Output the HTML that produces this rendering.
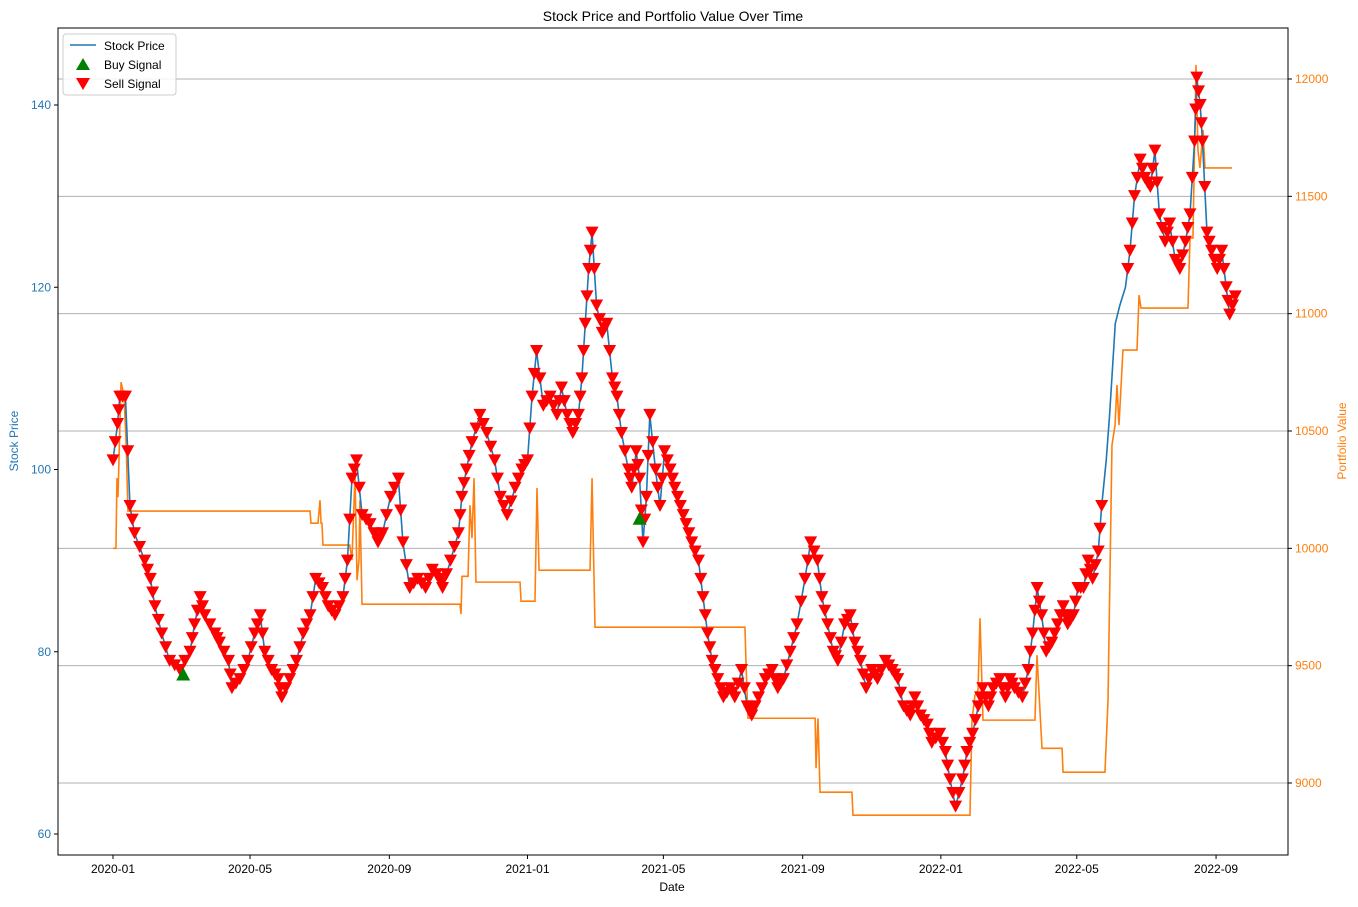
<!DOCTYPE html>
<html><head><meta charset="utf-8"><style>
body{margin:0;background:#fff;}
svg text{font-family:"Liberation Sans","Noto Sans CJK SC",sans-serif;}
</style></head><body>
<svg id="chart" width="1358" height="902" viewBox="0 0 1358 902" xmlns="http://www.w3.org/2000/svg">
<rect width="1358" height="902" fill="#fff"/>
<text x="673" y="21" text-anchor="middle" font-size="14">Stock Price and Portfolio Value Over Time</text>
<g id="grid"></g>
<g id="port"></g>
<g id="price"></g>
<g id="marks"></g>
<rect x="58" y="28" width="1230" height="827" fill="none" stroke="#000" stroke-width="1"/>
<g id="axes"></g>
<text x="672" y="891" text-anchor="middle" font-size="12">Date</text>
<text transform="translate(18,441) rotate(-90)" text-anchor="middle" font-size="12" fill="#1f77b4">Stock Price</text>
<text transform="translate(1346,441) rotate(-90)" text-anchor="middle" font-size="12" fill="#ff7f0e">Portfolio Value</text>
<g>
<rect x="63" y="34" width="113" height="61" fill="#fff" fill-opacity="0.85" stroke="#ccc" rx="3"/>
<line x1="70" y1="45" x2="96" y2="45" stroke="#1f77b4" stroke-width="1.5"/>
<text x="104" y="50" font-size="12">Stock Price</text>
<polygon points="83,58 76,70 90,70" fill="#008000"/>
<text x="104" y="69" font-size="12">Buy Signal</text>
<polygon points="76,78 90,78 83,90" fill="#ff0000"/>
<text x="104" y="88" font-size="12">Sell Signal</text>
</g>
</svg>
<script>
const days=[0,4,6,11,15,19,28,33,37,43,50,59,68,72,77,81,90,94,102,105,112,119,125,130,134,140,146,149,156,162,168,174,179,185,190,196,203,207,211,215,220,227,234,238,245,252,256,262,269,276,282,289,291,298,305,308,312,317,324,330,337,342,348,355,361,366,370,374,380,386,392,396,401,406,411,414,417,420,423,427,432,436,441,445,449,455,458,462,465,468,471,474,479,483,487,492,496,501,506,511,517,521,525,529,534,539,545,549,555,560,564,570,576,582,587,592,598,604,611,616,622,626,631,636,640,646,651,655,660,665,670,675,682,688,693,698,704,708,713,719,723,730,735,739,744,750,754,759,764,768,773,777,783,788,792,796,803,808,812,816,820,824,829,834,839,843,848,852,857,861,865,870,873,877,880,885,889,894,898,902,907,911,916,920,924,929,933,938,942,947,951,955,957,960,962,966,970,975,979,983,986,991];
const prices=[101,105,108,108,96,93,90,88,85,82,79,78,80,83,86,84,82,81,79,76,77,79,82,84,80,78,77,75,77,79,82,84,88,87,85,84,86,90,99,101,95,94,92,93,97,99,92,87,88,87,89,88,87,90,93,97,100,103,106,104,101,97,95,98,100,101,108,113,107,108,106,109,106,104,106,110,116,122,126,118,115,116,110,108,104,100,98,102,99,92,97,106,100,96,102,100,98,96,94,92,90,86,82,79,77,75,76,75,78,74,73,75,77,78,76,77,80,83,88,92,90,86,83,80,79,83,84,81,79,76,78,77,79,78,77,74,73,75,73,72,70,71,69,66,63,66,69,71,74,76,74,76,77,75,77,76,75,78,82,87,84,80,81,83,85,83,84,87,87,90,88,91,96,101,106,116,118,120,124,130,134,132,131,135,128,125,127,123,122,125,128,136,143,140,136,126,124,122,124,120,117,119];
const portDays=[0,2.6,3.5,4.4,7.1,9.7,11.5,13.2,174,174.8,181,182.8,183.7,184.5,185.4,209,211,213.7,215.5,217.2,218,219.9,306.4,307.3,308.2,313.5,315.2,317,318.8,320.5,359.4,360.3,372.6,374.4,376.2,421.2,423,425.6,558,559,560.7,620,620.8,622.5,624.3,652.5,653.4,756.7,758.5,761.1,763.8,765.6,768.2,814.1,815.9,820.3,838,838.9,875.9,878.6,882.1,884.8,886.5,888.3,891.8,904.2,906,907.7,949.2,951,953.6,956.3,958,959.8,962.5,964.2,988];
const portVals=[10000,10000,10299,10218,10708,10653,10461,10159,10159,10107,10107,10205,10107,10107,10014,10014,9950,10312,9864,9950,10205,9762,9762,9720,9881,9881,10184,10043,10299,9856,9856,9775,9775,10257,9907,9907,10299,9664,9664,9502,9276,9276,9063,9276,8961,8961,8863,8863,9268,9374,9396,9702,9268,9268,9545,9148,9148,9046,9046,9353,10440,10525,10696,10525,10845,10845,11079,11024,11024,11322,11322,12060,11697,11621,11783,11621,11621];
const buyDays=[62,465];
const buyPrices=[77.5,94.6];
const noSellRanges=[[875,895]];
const leftTicks=[60,80,100,120,140];
const rightTicks=[9000,9500,10000,10500,11000,11500,12000];
const xTickLabels=["2020-01","2020-05","2020-09","2021-01","2021-05","2021-09","2022-01","2022-05","2022-09"];
const xTickDays=[0,121,244,366,486,609,731,851,974];

const X=d=>113+d*1.1325;
const YL=p=>105+(140-p)*9.1125;
const YR=v=>79+(12000-v)*0.23467;
const NS="http://www.w3.org/2000/svg";
function mk(tag,attrs,parent,txt){const e=document.createElementNS(NS,tag);for(const k in attrs)e.setAttribute(k,attrs[k]);if(txt!==undefined)e.textContent=txt;parent.appendChild(e);return e;}
const grid=document.getElementById('grid'),axes=document.getElementById('axes');
rightTicks.forEach(v=>{
 const g=mk('line',{x1:58,x2:1288,y1:YR(v),y2:YR(v),stroke:'#b0b0b0','stroke-width':1},grid);
 
 
 mk('line',{x1:1288,x2:1292,y1:YR(v),y2:YR(v),stroke:'#000'},axes);
 const t=mk('text',{x:1295,y:YR(v)+4,'font-size':12,fill:'#ff7f0e'},axes,String(v));
 
 
});
leftTicks.forEach(v=>{
 mk('line',{x1:54,x2:58,y1:YL(v),y2:YL(v),stroke:'#000'},axes);
 const t=mk('text',{x:51,y:YL(v)+4,'font-size':12,fill:'#1f77b4','text-anchor':'end'},axes,String(v));
 
 
});
xTickDays.forEach((d,i)=>{
 mk('line',{x1:X(d),x2:X(d),y1:855,y2:859,stroke:'#000'},axes);
 const t=mk('text',{x:X(d),y:873,'font-size':12,'text-anchor':'middle'},axes,xTickLabels[i]);
 
 
});
const pl=mk('polyline',{points:portDays.map((d,i)=>X(d)+','+YR(portVals[i])).join(' '),fill:'none',stroke:'#ff7f0e','stroke-width':1.6},document.getElementById('port'));


const sl=mk('polyline',{points:days.map((d,i)=>X(d)+','+YL(prices[i])).join(' '),fill:'none',stroke:'#1f77b4','stroke-width':1.6},document.getElementById('price'));


const marks=document.getElementById('marks');
function sell(d,p){
 if(noSellRanges.some(r=>d>=r[0]&&d<=r[1]))return;
 const x=X(d),y=YL(p);
 const m=mk('polygon',{points:`${x-6.5},${y-6} ${x+6.5},${y-6} ${x},${y+6}`,fill:'#ff0000'},marks);
 
 
}
days.forEach((d,i)=>{
 sell(d,prices[i]);
 if(i<days.length-1) sell((d+days[i+1])/2,(prices[i]+prices[i+1])/2);
});
buyDays.forEach((d,i)=>{
 const x=X(d),y=YL(buyPrices[i]);
 const m=mk('polygon',{points:`${x},${y-7} ${x-7},${y+6} ${x+7},${y+6}`,fill:'#008000'},marks);
 
 
});
</script>
</body></html>
